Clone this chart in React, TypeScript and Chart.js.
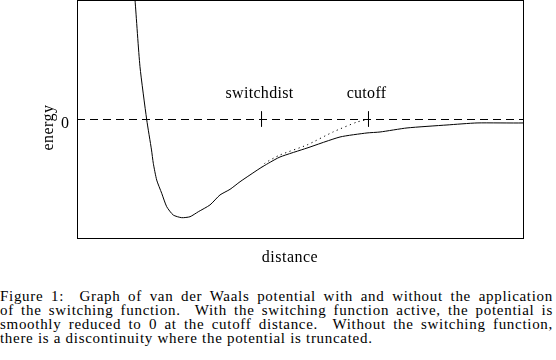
import React, { useEffect, useRef } from "react";
import { Chart, registerables } from "chart.js";

Chart.register(...registerables);

// distance (arbitrary units 0..10) and van der Waals energy (arbitrary units, 0 = dashed line)
const distance = [1.275, 1.298, 1.409, 1.559, 1.667, 1.707, 1.783, 1.895, 2.007, 2.154, 2.342, 2.528, 2.714, 2.975, 3.199, 3.423, 3.647, 3.87, 4.094, 4.28, 4.541, 5.145, 5.884, 6.488, 6.779, 7.383, 8.277, 8.949, 9.978, 10.0];
const energy = [1.088, 1.004, 0.444, 0.0, -0.256, -0.368, -0.509, -0.62, -0.733, -0.803, -0.825, -0.817, -0.775, -0.718, -0.634, -0.587, -0.523, -0.466, -0.41, -0.368, -0.315, -0.24, -0.147, -0.113, -0.105, -0.071, -0.046, -0.029, -0.029, -0.021];

// switched potential (dotted), from switchdist to cutoff
const switchedDistance = [4.128, 4.206, 4.541, 5.145, 5.727, 6.264, 6.465];
const switchedEnergy = [-0.403, -0.366, -0.298, -0.214, -0.105, -0.021, -0.004];

const switchdist = 4.128;
const cutoff = 6.521;
const markerLabels = ["switchdist", "cutoff"];
const markerPositions = [switchdist, cutoff];
const markerHalf = [0.067, -0.059];

const xRange = [0, 10];
const yRange = [-1, 1];
const yTickLabel = "0";
const xTitle = "distance";
const yTitle = "energy";

const captionLines = [
  "Figure 1:  Graph of van der Waals potential with and without the application",
  "of the switching function.  With the switching function active, the potential is",
  "smoothly reduced to 0 at the cutoff distance.  Without the switching function,",
  "there is a discontinuity where the potential is truncated.",
];

const serif = '"Liberation Serif", "Times New Roman", serif';

export default function App() {
  const ref = useRef<HTMLCanvasElement | null>(null);

  useEffect(() => {
    const canvas = ref.current;
    if (!canvas) return;

    const textPlugin = {
      id: "textPlugin",
      afterDraw(chart: any) {
        const { ctx, chartArea, scales } = chart;
        const xs = scales.x;
        const ys = scales.y;
        ctx.save();
        // frame
        ctx.strokeStyle = "#000";
        ctx.lineWidth = 1;
        ctx.strokeRect(77.5, 0.5, 446, 238);
        ctx.fillStyle = "#000";
        ctx.textAlign = "center";
        ctx.textBaseline = "middle";
        // y tick "0"
        ctx.font = `16px ${serif}`;
        (ctx as any).letterSpacing = "0px";
        ctx.fillText(yTickLabel, 65, ys.getPixelForValue(0) + 4);
        // x title
        (ctx as any).letterSpacing = "0.5px";
        ctx.fillText(xTitle, 290, chartArea.bottom + 19);
        // marker labels
        (ctx as any).letterSpacing = "0.3px";
        markerLabels.forEach((lab, i) => {
          ctx.fillText(lab, xs.getPixelForValue(markerPositions[i]) - 2, ys.getPixelForValue(0) - 26);
        });
        // y title
        (ctx as any).letterSpacing = "0.5px";
        ctx.translate(49, ys.getPixelForValue(0) + 8);
        ctx.rotate(-Math.PI / 2);
        ctx.fillText(yTitle, 0, 0);
        ctx.restore();
      },
    };

    const markerDatasets = markerPositions.map((p) => ({
      data: [
        { x: p, y: markerHalf[0] },
        { x: p, y: markerHalf[1] },
      ],
      borderColor: "#000",
      borderWidth: 1,
      pointRadius: 0,
      showLine: true,
      fill: false,
    }));

    const chart = new Chart(canvas, {
      type: "scatter",
      data: {
        datasets: [
          {
            data: [
              { x: xRange[0], y: 0 },
              { x: xRange[1], y: 0 },
            ],
            borderColor: "#000",
            borderWidth: 1,
            borderDash: [8, 5],
            pointRadius: 0,
            showLine: true,
            fill: false,
          },
          {
            data: distance.map((d, i) => ({ x: d, y: energy[i] })),
            borderColor: "#000",
            borderWidth: 1,
            pointRadius: 0,
            showLine: true,
            tension: 0.2,
            fill: false,
          },
          {
            data: switchedDistance.map((d, i) => ({ x: d, y: switchedEnergy[i] })),
            borderColor: "#000",
            borderWidth: 1,
            borderDash: [1.2, 3.5],
            pointRadius: 0,
            showLine: true,
            tension: 0.2,
            fill: false,
          },
          ...markerDatasets,
        ] as any,
      },
      options: {
        animation: false,
        responsive: false,
        layout: { padding: { left: 77, top: 0.5, right: 32, bottom: 31.5 } },
        plugins: { legend: { display: false }, tooltip: { enabled: false } },
        events: [],
        scales: {
          x: { type: "linear", min: xRange[0], max: xRange[1], display: false },
          y: { type: "linear", min: yRange[0], max: yRange[1], display: false },
        },
      },
      plugins: [textPlugin],
    });
    return () => chart.destroy();
  }, []);

  return (
    <div style={{ position: "fixed", left: 0, top: 0, width: 556, height: 360, background: "#fff" }}>
      <canvas ref={ref} width={556} height={270} style={{ position: "absolute", left: 0, top: 0 }} />
      <div
        style={{
          position: "absolute",
          left: 0,
          top: 289,
          width: 553,
          fontFamily: serif,
          fontSize: 15,
          letterSpacing: "0.7px",
          lineHeight: "14px",
          color: "#000",
        }}
      >
        {captionLines.map((line, i) => (
          <div
            key={i}
            style={{
              textAlign: i < captionLines.length - 1 ? "justify" : "left",
              textAlignLast: i < captionLines.length - 1 ? "justify" : "left",
              whiteSpace: "pre-wrap",
            }}
          >
            {line}
          </div>
        ))}
      </div>
    </div>
  );
}
